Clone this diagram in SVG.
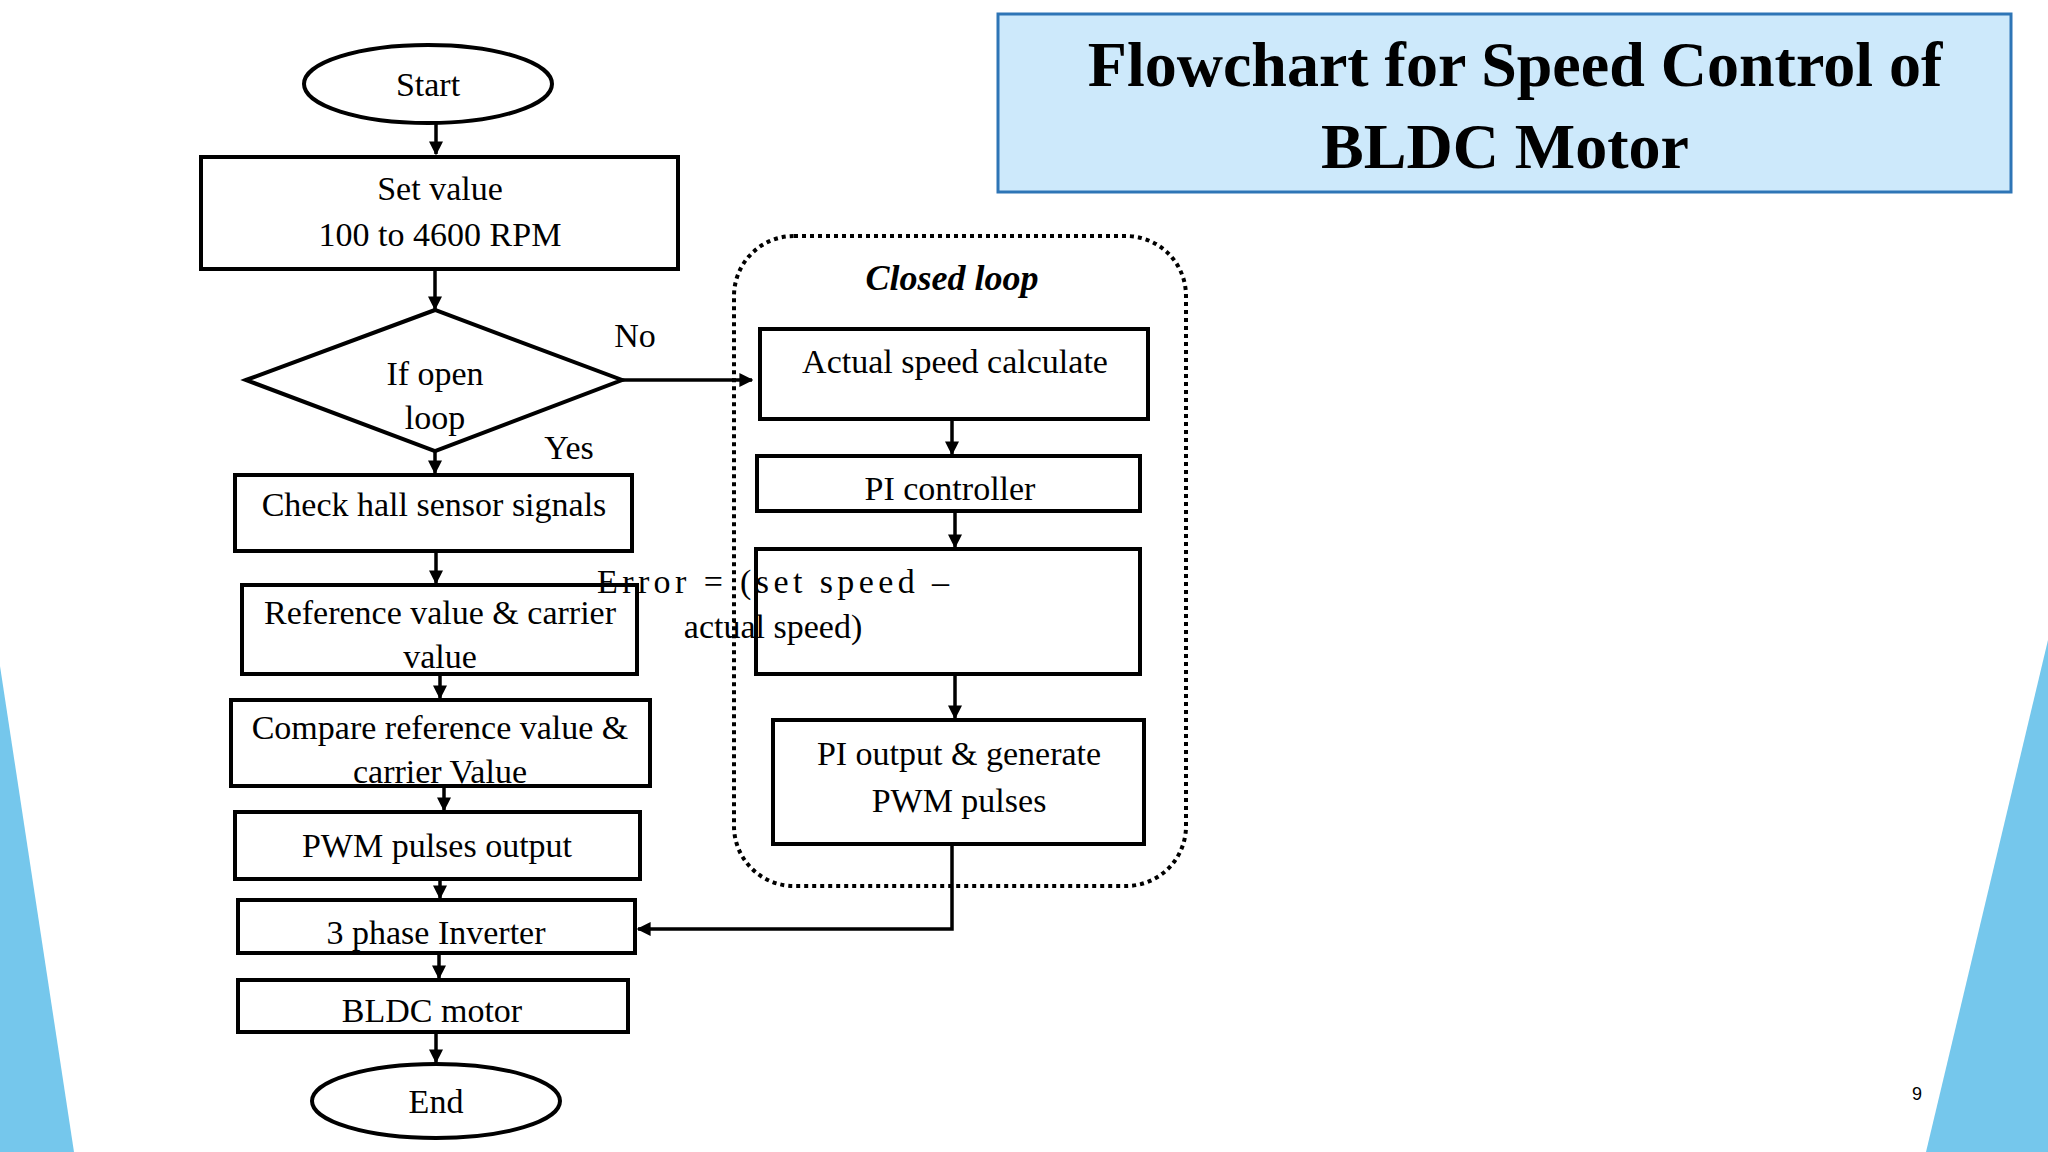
<svg xmlns="http://www.w3.org/2000/svg" width="2048" height="1152" viewBox="0 0 2048 1152">
<style>
.b{fill:#fff;stroke:#000;stroke-width:4}
.t{font-family:"Liberation Serif",serif;font-size:34px;fill:#000;text-anchor:middle}
.c{stroke:#000;stroke-width:3.5;fill:none;marker-end:url(#a)}
</style>
<defs><marker id="a" viewBox="0 0 10 10" refX="9" refY="5" markerWidth="4" markerHeight="4" orient="auto"><path d="M0,0L10,5L0,10z" fill="#000"/></marker></defs>
<rect width="2048" height="1152" fill="#fff"/>
<polygon points="0,666 74,1152 0,1152" fill="#75c7ec"/>
<polygon points="2048,640 1926,1152 2048,1152" fill="#75c7ec"/>
<g id="title"><rect x="998" y="14" width="1013" height="178" fill="#cde9fb" stroke="#2e75b6" stroke-width="3"/>
<text x="1515" y="86" font-family="Liberation Serif,serif" font-weight="bold" font-size="64" text-anchor="middle">Flowchart for Speed Control of</text>
<text x="1505" y="168" font-family="Liberation Serif,serif" font-weight="bold" font-size="64" text-anchor="middle">BLDC Motor</text></g>
<g id="loopbox"><rect x="734" y="236" width="452" height="650" rx="60" fill="none" stroke="#000" stroke-width="4" stroke-dasharray="4,4"/>
<text x="952" y="290" font-family="Liberation Serif,serif" font-size="36" font-weight="bold" font-style="italic" text-anchor="middle">Closed loop</text></g>
<g id="start"><ellipse cx="428" cy="84" rx="124" ry="39" class="b"/><text class="t" x="428" y="96">Start</text></g>
<g id="set"><rect x="201" y="157" width="477" height="112" class="b"/><text class="t" x="440" y="200">Set value</text><text class="t" x="440" y="246">100 to 4600 RPM</text></g>
<g id="dec"><polygon points="246,380 435,310 622,380 435,451" class="b"/><text class="t" x="435" y="385" font-size="32">If open</text><text class="t" x="435" y="429" font-size="32">loop</text></g>
<text class="t" x="635" y="347">No</text><text class="t" x="569" y="459">Yes</text>
<g id="hall"><rect x="235" y="475" width="397" height="76" class="b"/><text class="t" x="434" y="516" font-size="32">Check hall sensor signals</text></g>
<g id="ref"><rect x="242" y="585" width="395" height="89" class="b"/><text class="t" x="440" y="624" font-size="32">Reference value &amp; carrier</text><text class="t" x="440" y="668" font-size="32">value</text></g>
<g id="cmp"><rect x="231" y="700" width="419" height="86" class="b"/><text class="t" x="440" y="739" font-size="32">Compare reference value &amp;</text><text class="t" x="440" y="783" font-size="32">carrier Value</text></g>
<g id="pwm"><rect x="235" y="812" width="405" height="67" class="b"/><text class="t" x="437" y="857">PWM pulses output</text></g>
<g id="inv"><rect x="238" y="900" width="397" height="53" class="b"/><text class="t" x="436" y="944">3 phase Inverter</text></g>
<g id="motor"><rect x="238" y="980" width="390" height="52" class="b"/><text class="t" x="432" y="1022">BLDC motor</text></g>
<g id="end"><ellipse cx="436" cy="1101" rx="124" ry="37" class="b"/><text class="t" x="436" y="1113">End</text></g>
<g id="act"><rect x="760" y="329" width="388" height="90" class="b"/><text class="t" x="955" y="373">Actual speed calculate</text></g>
<g id="pi"><rect x="757" y="456" width="383" height="55" class="b"/><text class="t" x="950" y="500">PI controller</text></g>
<g id="err"><rect x="756" y="549" width="384" height="125" class="b"/><text class="t" x="773" y="593" text-anchor="start" textLength="352" lengthAdjust="spacing">Error = (set speed –</text><text class="t" x="773" y="638" text-anchor="start">actual speed)</text></g>
<g id="pio"><rect x="773" y="720" width="371" height="124" class="b"/><text class="t" x="959" y="765">PI output &amp; generate</text><text class="t" x="959" y="812">PWM pulses</text></g>
<text x="1917" y="1100" font-family="Liberation Sans,sans-serif" font-size="18" text-anchor="middle">9</text>
<g id="connectors">
<path class="c" d="M436,123V154"/><path class="c" d="M435,269V309"/><path class="c" d="M435,451V473"/>
<path class="c" d="M622,380H752"/><path class="c" d="M436,551V583"/><path class="c" d="M440,674V698"/>
<path class="c" d="M444,786V810"/><path class="c" d="M440,879V898"/><path class="c" d="M439,953V978"/><path class="c" d="M436,1032V1062"/>
<path class="c" d="M952,419V454"/><path class="c" d="M955,511V547"/><path class="c" d="M955,674V718"/>
<path class="c" d="M952,844V929H638"/>
</g>
</svg>
